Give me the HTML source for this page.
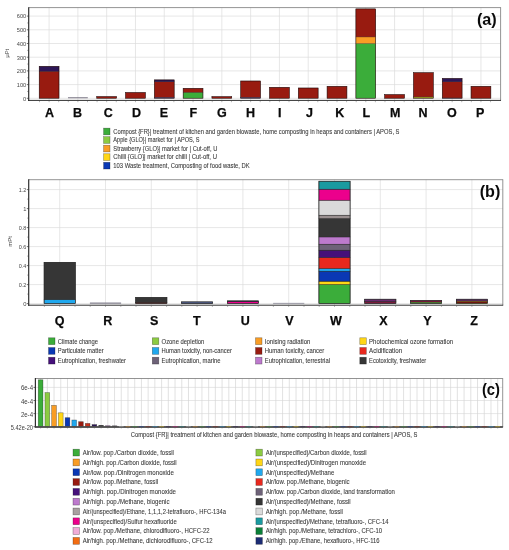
<!DOCTYPE html>
<html lang="en"><head><meta charset="utf-8"><title>Figure</title>
<style>html,body{margin:0;padding:0;background:#fff;}svg{display:block;}text{font-family:'Liberation Sans', sans-serif;} .lt{stroke:#383838;stroke-width:0.08px;}</style>
</head><body>
<svg width="509" height="550" viewBox="0 0 509 550">
<rect x="0" y="0" width="509" height="550" fill="#ffffff"/>
<rect x="28.70" y="7.60" width="471.90" height="92.80" fill="#ffffff"/>
<line x1="28.70" y1="98.30" x2="500.60" y2="98.30" stroke="#dcdcdc" stroke-width="0.7"/>
<line x1="28.70" y1="84.60" x2="500.60" y2="84.60" stroke="#dcdcdc" stroke-width="0.7"/>
<line x1="28.70" y1="70.90" x2="500.60" y2="70.90" stroke="#dcdcdc" stroke-width="0.7"/>
<line x1="28.70" y1="57.20" x2="500.60" y2="57.20" stroke="#dcdcdc" stroke-width="0.7"/>
<line x1="28.70" y1="43.50" x2="500.60" y2="43.50" stroke="#dcdcdc" stroke-width="0.7"/>
<line x1="28.70" y1="29.80" x2="500.60" y2="29.80" stroke="#dcdcdc" stroke-width="0.7"/>
<line x1="28.70" y1="16.10" x2="500.60" y2="16.10" stroke="#dcdcdc" stroke-width="0.7"/>
<line x1="49.10" y1="7.60" x2="49.10" y2="100.40" stroke="#dcdcdc" stroke-width="0.7"/>
<line x1="77.89" y1="7.60" x2="77.89" y2="100.40" stroke="#dcdcdc" stroke-width="0.7"/>
<line x1="106.68" y1="7.60" x2="106.68" y2="100.40" stroke="#dcdcdc" stroke-width="0.7"/>
<line x1="135.47" y1="7.60" x2="135.47" y2="100.40" stroke="#dcdcdc" stroke-width="0.7"/>
<line x1="164.26" y1="7.60" x2="164.26" y2="100.40" stroke="#dcdcdc" stroke-width="0.7"/>
<line x1="193.05" y1="7.60" x2="193.05" y2="100.40" stroke="#dcdcdc" stroke-width="0.7"/>
<line x1="221.84" y1="7.60" x2="221.84" y2="100.40" stroke="#dcdcdc" stroke-width="0.7"/>
<line x1="250.63" y1="7.60" x2="250.63" y2="100.40" stroke="#dcdcdc" stroke-width="0.7"/>
<line x1="279.42" y1="7.60" x2="279.42" y2="100.40" stroke="#dcdcdc" stroke-width="0.7"/>
<line x1="308.21" y1="7.60" x2="308.21" y2="100.40" stroke="#dcdcdc" stroke-width="0.7"/>
<line x1="337.00" y1="7.60" x2="337.00" y2="100.40" stroke="#dcdcdc" stroke-width="0.7"/>
<line x1="365.79" y1="7.60" x2="365.79" y2="100.40" stroke="#dcdcdc" stroke-width="0.7"/>
<line x1="394.58" y1="7.60" x2="394.58" y2="100.40" stroke="#dcdcdc" stroke-width="0.7"/>
<line x1="423.37" y1="7.60" x2="423.37" y2="100.40" stroke="#dcdcdc" stroke-width="0.7"/>
<line x1="452.16" y1="7.60" x2="452.16" y2="100.40" stroke="#dcdcdc" stroke-width="0.7"/>
<line x1="480.95" y1="7.60" x2="480.95" y2="100.40" stroke="#dcdcdc" stroke-width="0.7"/>
<rect x="39.20" y="71.30" width="19.80" height="26.90" fill="#981b10" stroke="rgba(20,10,10,0.6)" stroke-width="0.4"/>
<rect x="39.20" y="66.30" width="19.80" height="5.00" fill="#2d1656" stroke="rgba(20,10,10,0.6)" stroke-width="0.4"/>
<rect x="39.20" y="66.30" width="19.80" height="31.90" fill="none" stroke="rgba(40,12,12,0.85)" stroke-width="0.55"/>
<line x1="39.50" y1="100.90" x2="39.50" y2="102.20" stroke="#8a8a8a" stroke-width="0.6"/>
<line x1="49.10" y1="100.90" x2="49.10" y2="102.20" stroke="#8a8a8a" stroke-width="0.6"/>
<line x1="58.70" y1="100.90" x2="58.70" y2="102.20" stroke="#8a8a8a" stroke-width="0.6"/>
<rect x="67.99" y="97.40" width="19.80" height="0.80" fill="#5e586a"/>
<line x1="68.29" y1="100.90" x2="68.29" y2="102.20" stroke="#8a8a8a" stroke-width="0.6"/>
<line x1="77.89" y1="100.90" x2="77.89" y2="102.20" stroke="#8a8a8a" stroke-width="0.6"/>
<line x1="87.49" y1="100.90" x2="87.49" y2="102.20" stroke="#8a8a8a" stroke-width="0.6"/>
<rect x="96.78" y="96.60" width="19.80" height="1.60" fill="#981b10" stroke="rgba(20,10,10,0.6)" stroke-width="0.4"/>
<rect x="96.78" y="96.60" width="19.80" height="1.60" fill="none" stroke="rgba(40,12,12,0.85)" stroke-width="0.55"/>
<line x1="97.08" y1="100.90" x2="97.08" y2="102.20" stroke="#8a8a8a" stroke-width="0.6"/>
<line x1="106.68" y1="100.90" x2="106.68" y2="102.20" stroke="#8a8a8a" stroke-width="0.6"/>
<line x1="116.28" y1="100.90" x2="116.28" y2="102.20" stroke="#8a8a8a" stroke-width="0.6"/>
<rect x="125.57" y="92.50" width="19.80" height="5.70" fill="#981b10" stroke="rgba(20,10,10,0.6)" stroke-width="0.4"/>
<rect x="125.57" y="92.50" width="19.80" height="5.70" fill="none" stroke="rgba(40,12,12,0.85)" stroke-width="0.55"/>
<line x1="125.87" y1="100.90" x2="125.87" y2="102.20" stroke="#8a8a8a" stroke-width="0.6"/>
<line x1="135.47" y1="100.90" x2="135.47" y2="102.20" stroke="#8a8a8a" stroke-width="0.6"/>
<line x1="145.07" y1="100.90" x2="145.07" y2="102.20" stroke="#8a8a8a" stroke-width="0.6"/>
<rect x="154.36" y="97.40" width="19.80" height="0.80" fill="#0a38b4" stroke="rgba(20,10,10,0.6)" stroke-width="0.4"/>
<rect x="154.36" y="81.80" width="19.80" height="15.60" fill="#981b10" stroke="rgba(20,10,10,0.6)" stroke-width="0.4"/>
<rect x="154.36" y="79.90" width="19.80" height="1.90" fill="#2d1656" stroke="rgba(20,10,10,0.6)" stroke-width="0.4"/>
<rect x="154.36" y="79.90" width="19.80" height="18.30" fill="none" stroke="rgba(40,12,12,0.85)" stroke-width="0.55"/>
<line x1="154.66" y1="100.90" x2="154.66" y2="102.20" stroke="#8a8a8a" stroke-width="0.6"/>
<line x1="164.26" y1="100.90" x2="164.26" y2="102.20" stroke="#8a8a8a" stroke-width="0.6"/>
<line x1="173.86" y1="100.90" x2="173.86" y2="102.20" stroke="#8a8a8a" stroke-width="0.6"/>
<rect x="183.15" y="92.30" width="19.80" height="5.90" fill="#3bad3a" stroke="rgba(20,10,10,0.6)" stroke-width="0.4"/>
<rect x="183.15" y="88.30" width="19.80" height="4.00" fill="#981b10" stroke="rgba(20,10,10,0.6)" stroke-width="0.4"/>
<rect x="183.15" y="88.30" width="19.80" height="9.90" fill="none" stroke="rgba(40,12,12,0.85)" stroke-width="0.55"/>
<line x1="183.45" y1="100.90" x2="183.45" y2="102.20" stroke="#8a8a8a" stroke-width="0.6"/>
<line x1="193.05" y1="100.90" x2="193.05" y2="102.20" stroke="#8a8a8a" stroke-width="0.6"/>
<line x1="202.65" y1="100.90" x2="202.65" y2="102.20" stroke="#8a8a8a" stroke-width="0.6"/>
<rect x="211.94" y="96.70" width="19.80" height="1.50" fill="#981b10" stroke="rgba(20,10,10,0.6)" stroke-width="0.4"/>
<rect x="211.94" y="96.70" width="19.80" height="1.50" fill="none" stroke="rgba(40,12,12,0.85)" stroke-width="0.55"/>
<line x1="212.24" y1="100.90" x2="212.24" y2="102.20" stroke="#8a8a8a" stroke-width="0.6"/>
<line x1="221.84" y1="100.90" x2="221.84" y2="102.20" stroke="#8a8a8a" stroke-width="0.6"/>
<line x1="231.44" y1="100.90" x2="231.44" y2="102.20" stroke="#8a8a8a" stroke-width="0.6"/>
<rect x="240.73" y="97.40" width="19.80" height="0.80" fill="#0a38b4" stroke="rgba(20,10,10,0.6)" stroke-width="0.4"/>
<rect x="240.73" y="81.00" width="19.80" height="16.40" fill="#981b10" stroke="rgba(20,10,10,0.6)" stroke-width="0.4"/>
<rect x="240.73" y="81.00" width="19.80" height="17.20" fill="none" stroke="rgba(40,12,12,0.85)" stroke-width="0.55"/>
<line x1="241.03" y1="100.90" x2="241.03" y2="102.20" stroke="#8a8a8a" stroke-width="0.6"/>
<line x1="250.63" y1="100.90" x2="250.63" y2="102.20" stroke="#8a8a8a" stroke-width="0.6"/>
<line x1="260.23" y1="100.90" x2="260.23" y2="102.20" stroke="#8a8a8a" stroke-width="0.6"/>
<rect x="269.52" y="87.30" width="19.80" height="10.90" fill="#981b10" stroke="rgba(20,10,10,0.6)" stroke-width="0.4"/>
<rect x="269.52" y="87.30" width="19.80" height="10.90" fill="none" stroke="rgba(40,12,12,0.85)" stroke-width="0.55"/>
<line x1="269.82" y1="100.90" x2="269.82" y2="102.20" stroke="#8a8a8a" stroke-width="0.6"/>
<line x1="279.42" y1="100.90" x2="279.42" y2="102.20" stroke="#8a8a8a" stroke-width="0.6"/>
<line x1="289.02" y1="100.90" x2="289.02" y2="102.20" stroke="#8a8a8a" stroke-width="0.6"/>
<rect x="298.31" y="88.00" width="19.80" height="10.20" fill="#981b10" stroke="rgba(20,10,10,0.6)" stroke-width="0.4"/>
<rect x="298.31" y="88.00" width="19.80" height="10.20" fill="none" stroke="rgba(40,12,12,0.85)" stroke-width="0.55"/>
<line x1="298.61" y1="100.90" x2="298.61" y2="102.20" stroke="#8a8a8a" stroke-width="0.6"/>
<line x1="308.21" y1="100.90" x2="308.21" y2="102.20" stroke="#8a8a8a" stroke-width="0.6"/>
<line x1="317.81" y1="100.90" x2="317.81" y2="102.20" stroke="#8a8a8a" stroke-width="0.6"/>
<rect x="327.10" y="86.30" width="19.80" height="11.90" fill="#981b10" stroke="rgba(20,10,10,0.6)" stroke-width="0.4"/>
<rect x="327.10" y="86.30" width="19.80" height="11.90" fill="none" stroke="rgba(40,12,12,0.85)" stroke-width="0.55"/>
<line x1="327.40" y1="100.90" x2="327.40" y2="102.20" stroke="#8a8a8a" stroke-width="0.6"/>
<line x1="337.00" y1="100.90" x2="337.00" y2="102.20" stroke="#8a8a8a" stroke-width="0.6"/>
<line x1="346.60" y1="100.90" x2="346.60" y2="102.20" stroke="#8a8a8a" stroke-width="0.6"/>
<rect x="355.89" y="43.50" width="19.80" height="54.70" fill="#3bad3a" stroke="rgba(20,10,10,0.6)" stroke-width="0.4"/>
<rect x="355.89" y="36.90" width="19.80" height="6.60" fill="#f99d25" stroke="rgba(20,10,10,0.6)" stroke-width="0.4"/>
<rect x="355.89" y="8.90" width="19.80" height="28.00" fill="#981b10" stroke="rgba(20,10,10,0.6)" stroke-width="0.4"/>
<rect x="355.89" y="8.90" width="19.80" height="89.30" fill="none" stroke="rgba(40,12,12,0.85)" stroke-width="0.55"/>
<line x1="356.19" y1="100.90" x2="356.19" y2="102.20" stroke="#8a8a8a" stroke-width="0.6"/>
<line x1="365.79" y1="100.90" x2="365.79" y2="102.20" stroke="#8a8a8a" stroke-width="0.6"/>
<line x1="375.39" y1="100.90" x2="375.39" y2="102.20" stroke="#8a8a8a" stroke-width="0.6"/>
<rect x="384.68" y="94.60" width="19.80" height="3.60" fill="#981b10" stroke="rgba(20,10,10,0.6)" stroke-width="0.4"/>
<rect x="384.68" y="94.60" width="19.80" height="3.60" fill="none" stroke="rgba(40,12,12,0.85)" stroke-width="0.55"/>
<line x1="384.98" y1="100.90" x2="384.98" y2="102.20" stroke="#8a8a8a" stroke-width="0.6"/>
<line x1="394.58" y1="100.90" x2="394.58" y2="102.20" stroke="#8a8a8a" stroke-width="0.6"/>
<line x1="404.18" y1="100.90" x2="404.18" y2="102.20" stroke="#8a8a8a" stroke-width="0.6"/>
<rect x="413.47" y="96.90" width="19.80" height="1.30" fill="#a3a828" stroke="rgba(20,10,10,0.6)" stroke-width="0.4"/>
<rect x="413.47" y="72.70" width="19.80" height="24.20" fill="#981b10" stroke="rgba(20,10,10,0.6)" stroke-width="0.4"/>
<rect x="413.47" y="72.70" width="19.80" height="25.50" fill="none" stroke="rgba(40,12,12,0.85)" stroke-width="0.55"/>
<line x1="413.77" y1="100.90" x2="413.77" y2="102.20" stroke="#8a8a8a" stroke-width="0.6"/>
<line x1="423.37" y1="100.90" x2="423.37" y2="102.20" stroke="#8a8a8a" stroke-width="0.6"/>
<line x1="432.97" y1="100.90" x2="432.97" y2="102.20" stroke="#8a8a8a" stroke-width="0.6"/>
<rect x="442.26" y="97.90" width="19.80" height="0.30" fill="#0a38b4" stroke="rgba(20,10,10,0.6)" stroke-width="0.4"/>
<rect x="442.26" y="81.80" width="19.80" height="16.10" fill="#981b10" stroke="rgba(20,10,10,0.6)" stroke-width="0.4"/>
<rect x="442.26" y="78.40" width="19.80" height="3.40" fill="#2d1656" stroke="rgba(20,10,10,0.6)" stroke-width="0.4"/>
<rect x="442.26" y="78.40" width="19.80" height="19.80" fill="none" stroke="rgba(40,12,12,0.85)" stroke-width="0.55"/>
<line x1="442.56" y1="100.90" x2="442.56" y2="102.20" stroke="#8a8a8a" stroke-width="0.6"/>
<line x1="452.16" y1="100.90" x2="452.16" y2="102.20" stroke="#8a8a8a" stroke-width="0.6"/>
<line x1="461.76" y1="100.90" x2="461.76" y2="102.20" stroke="#8a8a8a" stroke-width="0.6"/>
<rect x="471.05" y="86.30" width="19.80" height="11.90" fill="#981b10" stroke="rgba(20,10,10,0.6)" stroke-width="0.4"/>
<rect x="471.05" y="86.30" width="19.80" height="11.90" fill="none" stroke="rgba(40,12,12,0.85)" stroke-width="0.55"/>
<line x1="471.35" y1="100.90" x2="471.35" y2="102.20" stroke="#8a8a8a" stroke-width="0.6"/>
<line x1="480.95" y1="100.90" x2="480.95" y2="102.20" stroke="#8a8a8a" stroke-width="0.6"/>
<line x1="490.55" y1="100.90" x2="490.55" y2="102.20" stroke="#8a8a8a" stroke-width="0.6"/>
<line x1="26.80" y1="98.30" x2="28.70" y2="98.30" stroke="#333" stroke-width="0.7"/>
<line x1="27.30" y1="91.45" x2="28.70" y2="91.45" stroke="#555" stroke-width="0.6"/>
<line x1="26.80" y1="84.60" x2="28.70" y2="84.60" stroke="#333" stroke-width="0.7"/>
<line x1="27.30" y1="77.75" x2="28.70" y2="77.75" stroke="#555" stroke-width="0.6"/>
<line x1="26.80" y1="70.90" x2="28.70" y2="70.90" stroke="#333" stroke-width="0.7"/>
<line x1="27.30" y1="64.05" x2="28.70" y2="64.05" stroke="#555" stroke-width="0.6"/>
<line x1="26.80" y1="57.20" x2="28.70" y2="57.20" stroke="#333" stroke-width="0.7"/>
<line x1="27.30" y1="50.35" x2="28.70" y2="50.35" stroke="#555" stroke-width="0.6"/>
<line x1="26.80" y1="43.50" x2="28.70" y2="43.50" stroke="#333" stroke-width="0.7"/>
<line x1="27.30" y1="36.65" x2="28.70" y2="36.65" stroke="#555" stroke-width="0.6"/>
<line x1="26.80" y1="29.80" x2="28.70" y2="29.80" stroke="#333" stroke-width="0.7"/>
<line x1="27.30" y1="22.95" x2="28.70" y2="22.95" stroke="#555" stroke-width="0.6"/>
<line x1="26.80" y1="16.10" x2="28.70" y2="16.10" stroke="#333" stroke-width="0.7"/>
<line x1="28.70" y1="7.60" x2="500.60" y2="7.60" stroke="#777" stroke-width="0.8"/>
<line x1="500.60" y1="7.20" x2="500.60" y2="100.40" stroke="#777" stroke-width="0.8"/>
<line x1="28.70" y1="7.20" x2="28.70" y2="100.90" stroke="#303030" stroke-width="1.2"/>
<line x1="28.10" y1="100.40" x2="501.00" y2="100.40" stroke="#262626" stroke-width="0.95"/>
<text x="23.00" y="100.60" font-size="6.1" text-anchor="start" font-weight="normal" fill="#484848" textLength="3.2" lengthAdjust="spacingAndGlyphs">0</text>
<text x="16.80" y="86.90" font-size="6.1" text-anchor="start" font-weight="normal" fill="#484848" textLength="9.4" lengthAdjust="spacingAndGlyphs">100</text>
<text x="16.80" y="73.20" font-size="6.1" text-anchor="start" font-weight="normal" fill="#484848" textLength="9.4" lengthAdjust="spacingAndGlyphs">200</text>
<text x="16.80" y="59.50" font-size="6.1" text-anchor="start" font-weight="normal" fill="#484848" textLength="9.4" lengthAdjust="spacingAndGlyphs">300</text>
<text x="16.80" y="45.80" font-size="6.1" text-anchor="start" font-weight="normal" fill="#484848" textLength="9.4" lengthAdjust="spacingAndGlyphs">400</text>
<text x="16.80" y="32.10" font-size="6.1" text-anchor="start" font-weight="normal" fill="#484848" textLength="9.4" lengthAdjust="spacingAndGlyphs">500</text>
<text x="16.80" y="18.40" font-size="6.1" text-anchor="start" font-weight="normal" fill="#484848" textLength="9.4" lengthAdjust="spacingAndGlyphs">600</text>
<text transform="translate(9.4,53.2) rotate(-90)" font-size="5.6" text-anchor="middle" fill="#484848">µPt</text>
<text x="49.60" y="117.00" font-size="12.5" text-anchor="middle" font-weight="bold" fill="#0a0a0a" stroke="#0a0a0a" stroke-width="0.25">A</text>
<text x="77.50" y="117.00" font-size="12.5" text-anchor="middle" font-weight="bold" fill="#0a0a0a" stroke="#0a0a0a" stroke-width="0.25">B</text>
<text x="108.30" y="117.00" font-size="12.5" text-anchor="middle" font-weight="bold" fill="#0a0a0a" stroke="#0a0a0a" stroke-width="0.25">C</text>
<text x="136.40" y="117.00" font-size="12.5" text-anchor="middle" font-weight="bold" fill="#0a0a0a" stroke="#0a0a0a" stroke-width="0.25">D</text>
<text x="164.00" y="117.00" font-size="12.5" text-anchor="middle" font-weight="bold" fill="#0a0a0a" stroke="#0a0a0a" stroke-width="0.25">E</text>
<text x="193.30" y="117.00" font-size="12.5" text-anchor="middle" font-weight="bold" fill="#0a0a0a" stroke="#0a0a0a" stroke-width="0.25">F</text>
<text x="221.80" y="117.00" font-size="12.5" text-anchor="middle" font-weight="bold" fill="#0a0a0a" stroke="#0a0a0a" stroke-width="0.25">G</text>
<text x="250.60" y="117.00" font-size="12.5" text-anchor="middle" font-weight="bold" fill="#0a0a0a" stroke="#0a0a0a" stroke-width="0.25">H</text>
<text x="279.80" y="117.00" font-size="12.5" text-anchor="middle" font-weight="bold" fill="#0a0a0a" stroke="#0a0a0a" stroke-width="0.25">I</text>
<text x="309.50" y="117.00" font-size="12.5" text-anchor="middle" font-weight="bold" fill="#0a0a0a" stroke="#0a0a0a" stroke-width="0.25">J</text>
<text x="339.80" y="117.00" font-size="12.5" text-anchor="middle" font-weight="bold" fill="#0a0a0a" stroke="#0a0a0a" stroke-width="0.25">K</text>
<text x="366.30" y="117.00" font-size="12.5" text-anchor="middle" font-weight="bold" fill="#0a0a0a" stroke="#0a0a0a" stroke-width="0.25">L</text>
<text x="395.10" y="117.00" font-size="12.5" text-anchor="middle" font-weight="bold" fill="#0a0a0a" stroke="#0a0a0a" stroke-width="0.25">M</text>
<text x="422.90" y="117.00" font-size="12.5" text-anchor="middle" font-weight="bold" fill="#0a0a0a" stroke="#0a0a0a" stroke-width="0.25">N</text>
<text x="451.90" y="117.00" font-size="12.5" text-anchor="middle" font-weight="bold" fill="#0a0a0a" stroke="#0a0a0a" stroke-width="0.25">O</text>
<text x="480.10" y="117.00" font-size="12.5" text-anchor="middle" font-weight="bold" fill="#0a0a0a" stroke="#0a0a0a" stroke-width="0.25">P</text>
<text x="476.90" y="25.10" font-size="16.5" text-anchor="start" font-weight="bold" fill="#0a0a0a" textLength="19.8" lengthAdjust="spacingAndGlyphs">(a)</text>
<rect x="103.60" y="128.15" width="6.40" height="6.70" fill="#3bad3a" stroke="rgba(0,0,0,0.42)" stroke-width="0.6"/>
<text x="113.30" y="133.80" font-size="6.8" text-anchor="start" font-weight="normal" fill="#383838" class="lt" textLength="286.2" lengthAdjust="spacingAndGlyphs">Compost {FR}| treatment of kitchen and garden biowaste, home composting in heaps and containers | APOS, S</text>
<rect x="103.60" y="136.69" width="6.40" height="6.70" fill="#8ccb42" stroke="rgba(0,0,0,0.42)" stroke-width="0.6"/>
<text x="113.30" y="142.34" font-size="6.8" text-anchor="start" font-weight="normal" fill="#383838" class="lt" textLength="86.3" lengthAdjust="spacingAndGlyphs">Apple {GLO}| market for | APOS, S</text>
<rect x="103.60" y="145.23" width="6.40" height="6.70" fill="#f99d25" stroke="rgba(0,0,0,0.42)" stroke-width="0.6"/>
<text x="113.30" y="150.88" font-size="6.8" text-anchor="start" font-weight="normal" fill="#383838" class="lt" textLength="104.0" lengthAdjust="spacingAndGlyphs">Strawberry {GLO}| market for | Cut-off, U</text>
<rect x="103.60" y="153.77" width="6.40" height="6.70" fill="#ffd616" stroke="rgba(0,0,0,0.42)" stroke-width="0.6"/>
<text x="113.30" y="159.42" font-size="6.8" text-anchor="start" font-weight="normal" fill="#383838" class="lt" textLength="103.6" lengthAdjust="spacingAndGlyphs">Chilli {GLO}| market for chilli | Cut-off, U</text>
<rect x="103.60" y="162.31" width="6.40" height="6.70" fill="#0a38b4" stroke="rgba(0,0,0,0.42)" stroke-width="0.6"/>
<text x="113.30" y="167.96" font-size="6.8" text-anchor="start" font-weight="normal" fill="#383838" class="lt" textLength="136.4" lengthAdjust="spacingAndGlyphs">103 Waste treatment, Composting of food waste, DK</text>
<rect x="28.70" y="179.70" width="474.10" height="125.50" fill="#ffffff"/>
<line x1="28.70" y1="303.60" x2="502.80" y2="303.60" stroke="#dcdcdc" stroke-width="0.7"/>
<line x1="28.70" y1="284.60" x2="502.80" y2="284.60" stroke="#dcdcdc" stroke-width="0.7"/>
<line x1="28.70" y1="265.60" x2="502.80" y2="265.60" stroke="#dcdcdc" stroke-width="0.7"/>
<line x1="28.70" y1="246.60" x2="502.80" y2="246.60" stroke="#dcdcdc" stroke-width="0.7"/>
<line x1="28.70" y1="227.60" x2="502.80" y2="227.60" stroke="#dcdcdc" stroke-width="0.7"/>
<line x1="28.70" y1="208.60" x2="502.80" y2="208.60" stroke="#dcdcdc" stroke-width="0.7"/>
<line x1="28.70" y1="189.60" x2="502.80" y2="189.60" stroke="#dcdcdc" stroke-width="0.7"/>
<line x1="59.70" y1="179.70" x2="59.70" y2="305.20" stroke="#dcdcdc" stroke-width="0.7"/>
<line x1="105.50" y1="179.70" x2="105.50" y2="305.20" stroke="#dcdcdc" stroke-width="0.7"/>
<line x1="151.30" y1="179.70" x2="151.30" y2="305.20" stroke="#dcdcdc" stroke-width="0.7"/>
<line x1="197.10" y1="179.70" x2="197.10" y2="305.20" stroke="#dcdcdc" stroke-width="0.7"/>
<line x1="242.90" y1="179.70" x2="242.90" y2="305.20" stroke="#dcdcdc" stroke-width="0.7"/>
<line x1="288.70" y1="179.70" x2="288.70" y2="305.20" stroke="#dcdcdc" stroke-width="0.7"/>
<line x1="334.50" y1="179.70" x2="334.50" y2="305.20" stroke="#dcdcdc" stroke-width="0.7"/>
<line x1="380.30" y1="179.70" x2="380.30" y2="305.20" stroke="#dcdcdc" stroke-width="0.7"/>
<line x1="426.10" y1="179.70" x2="426.10" y2="305.20" stroke="#dcdcdc" stroke-width="0.7"/>
<line x1="471.90" y1="179.70" x2="471.90" y2="305.20" stroke="#dcdcdc" stroke-width="0.7"/>
<rect x="44.10" y="299.50" width="31.20" height="4.10" fill="#20a8ee" stroke="rgba(15,15,15,0.8)" stroke-width="0.5"/>
<rect x="44.10" y="262.30" width="31.20" height="37.20" fill="#363636" stroke="rgba(15,15,15,0.8)" stroke-width="0.5"/>
<rect x="44.10" y="262.30" width="31.20" height="41.30" fill="none" stroke="#2a2a2a" stroke-width="0.6"/>
<line x1="44.40" y1="305.70" x2="44.40" y2="307.00" stroke="#8a8a8a" stroke-width="0.6"/>
<line x1="59.70" y1="305.70" x2="59.70" y2="307.00" stroke="#8a8a8a" stroke-width="0.6"/>
<line x1="75.00" y1="305.70" x2="75.00" y2="307.00" stroke="#8a8a8a" stroke-width="0.6"/>
<rect x="89.90" y="302.60" width="31.20" height="1.00" fill="#6a6878"/>
<line x1="90.20" y1="305.70" x2="90.20" y2="307.00" stroke="#8a8a8a" stroke-width="0.6"/>
<line x1="105.50" y1="305.70" x2="105.50" y2="307.00" stroke="#8a8a8a" stroke-width="0.6"/>
<line x1="120.80" y1="305.70" x2="120.80" y2="307.00" stroke="#8a8a8a" stroke-width="0.6"/>
<rect x="135.70" y="302.40" width="31.20" height="1.20" fill="#981b10" stroke="rgba(15,15,15,0.8)" stroke-width="0.5"/>
<rect x="135.70" y="297.40" width="31.20" height="5.00" fill="#363636" stroke="rgba(15,15,15,0.8)" stroke-width="0.5"/>
<rect x="135.70" y="297.40" width="31.20" height="6.20" fill="none" stroke="#2a2a2a" stroke-width="0.6"/>
<line x1="136.00" y1="305.70" x2="136.00" y2="307.00" stroke="#8a8a8a" stroke-width="0.6"/>
<line x1="151.30" y1="305.70" x2="151.30" y2="307.00" stroke="#8a8a8a" stroke-width="0.6"/>
<line x1="166.60" y1="305.70" x2="166.60" y2="307.00" stroke="#8a8a8a" stroke-width="0.6"/>
<rect x="181.50" y="301.90" width="31.20" height="1.70" fill="#5a6aa0" stroke="rgba(15,15,15,0.8)" stroke-width="0.5"/>
<rect x="181.50" y="301.90" width="31.20" height="1.70" fill="none" stroke="#2a2a2a" stroke-width="0.6"/>
<line x1="181.80" y1="305.70" x2="181.80" y2="307.00" stroke="#8a8a8a" stroke-width="0.6"/>
<line x1="197.10" y1="305.70" x2="197.10" y2="307.00" stroke="#8a8a8a" stroke-width="0.6"/>
<line x1="212.40" y1="305.70" x2="212.40" y2="307.00" stroke="#8a8a8a" stroke-width="0.6"/>
<rect x="227.30" y="301.70" width="31.20" height="1.90" fill="#ec008c" stroke="rgba(15,15,15,0.8)" stroke-width="0.5"/>
<rect x="227.30" y="300.90" width="31.20" height="0.80" fill="#3a1a4a" stroke="rgba(15,15,15,0.8)" stroke-width="0.5"/>
<rect x="227.30" y="300.90" width="31.20" height="2.70" fill="none" stroke="#2a2a2a" stroke-width="0.6"/>
<line x1="227.60" y1="305.70" x2="227.60" y2="307.00" stroke="#8a8a8a" stroke-width="0.6"/>
<line x1="242.90" y1="305.70" x2="242.90" y2="307.00" stroke="#8a8a8a" stroke-width="0.6"/>
<line x1="258.20" y1="305.70" x2="258.20" y2="307.00" stroke="#8a8a8a" stroke-width="0.6"/>
<rect x="273.10" y="302.90" width="31.20" height="0.70" fill="#7a7888"/>
<line x1="273.40" y1="305.70" x2="273.40" y2="307.00" stroke="#8a8a8a" stroke-width="0.6"/>
<line x1="288.70" y1="305.70" x2="288.70" y2="307.00" stroke="#8a8a8a" stroke-width="0.6"/>
<line x1="304.00" y1="305.70" x2="304.00" y2="307.00" stroke="#8a8a8a" stroke-width="0.6"/>
<rect x="318.90" y="284.50" width="31.20" height="19.10" fill="#3bad3a" stroke="rgba(15,15,15,0.8)" stroke-width="0.5"/>
<rect x="318.90" y="281.20" width="31.20" height="3.30" fill="#ffd616" stroke="rgba(15,15,15,0.8)" stroke-width="0.5"/>
<rect x="318.90" y="271.20" width="31.20" height="10.00" fill="#0a38b4" stroke="rgba(15,15,15,0.8)" stroke-width="0.5"/>
<rect x="318.90" y="268.50" width="31.20" height="2.70" fill="#20a8ee" stroke="rgba(15,15,15,0.8)" stroke-width="0.5"/>
<rect x="318.90" y="257.50" width="31.20" height="11.00" fill="#e8281e" stroke="rgba(15,15,15,0.8)" stroke-width="0.5"/>
<rect x="318.90" y="250.20" width="31.20" height="7.30" fill="#45107a" stroke="rgba(15,15,15,0.8)" stroke-width="0.5"/>
<rect x="318.90" y="244.20" width="31.20" height="6.00" fill="#6e6278" stroke="rgba(15,15,15,0.8)" stroke-width="0.5"/>
<rect x="318.90" y="236.90" width="31.20" height="7.30" fill="#bd7acd" stroke="rgba(15,15,15,0.8)" stroke-width="0.5"/>
<rect x="318.90" y="218.50" width="31.20" height="18.40" fill="#363636" stroke="rgba(15,15,15,0.8)" stroke-width="0.5"/>
<rect x="318.90" y="215.20" width="31.20" height="3.30" fill="#9a9090" stroke="rgba(15,15,15,0.8)" stroke-width="0.5"/>
<rect x="318.90" y="200.20" width="31.20" height="15.00" fill="#dadada" stroke="rgba(15,15,15,0.8)" stroke-width="0.5"/>
<rect x="318.90" y="189.20" width="31.20" height="11.00" fill="#ec008c" stroke="rgba(15,15,15,0.8)" stroke-width="0.5"/>
<rect x="318.90" y="181.20" width="31.20" height="8.00" fill="#1a9aa0" stroke="rgba(15,15,15,0.8)" stroke-width="0.5"/>
<rect x="318.90" y="181.20" width="31.20" height="122.40" fill="none" stroke="#2a2a2a" stroke-width="0.6"/>
<line x1="319.20" y1="305.70" x2="319.20" y2="307.00" stroke="#8a8a8a" stroke-width="0.6"/>
<line x1="334.50" y1="305.70" x2="334.50" y2="307.00" stroke="#8a8a8a" stroke-width="0.6"/>
<line x1="349.80" y1="305.70" x2="349.80" y2="307.00" stroke="#8a8a8a" stroke-width="0.6"/>
<rect x="364.70" y="301.40" width="31.20" height="2.20" fill="#7a1a3a" stroke="rgba(15,15,15,0.8)" stroke-width="0.5"/>
<rect x="364.70" y="299.20" width="31.20" height="2.20" fill="#6a2a70" stroke="rgba(15,15,15,0.8)" stroke-width="0.5"/>
<rect x="364.70" y="299.20" width="31.20" height="4.40" fill="none" stroke="#2a2a2a" stroke-width="0.6"/>
<line x1="365.00" y1="305.70" x2="365.00" y2="307.00" stroke="#8a8a8a" stroke-width="0.6"/>
<line x1="380.30" y1="305.70" x2="380.30" y2="307.00" stroke="#8a8a8a" stroke-width="0.6"/>
<line x1="395.60" y1="305.70" x2="395.60" y2="307.00" stroke="#8a8a8a" stroke-width="0.6"/>
<rect x="410.50" y="302.00" width="31.20" height="1.60" fill="#6ab040" stroke="rgba(15,15,15,0.8)" stroke-width="0.5"/>
<rect x="410.50" y="300.40" width="31.20" height="1.60" fill="#8a1a40" stroke="rgba(15,15,15,0.8)" stroke-width="0.5"/>
<rect x="410.50" y="300.40" width="31.20" height="3.20" fill="none" stroke="#2a2a2a" stroke-width="0.6"/>
<line x1="410.80" y1="305.70" x2="410.80" y2="307.00" stroke="#8a8a8a" stroke-width="0.6"/>
<line x1="426.10" y1="305.70" x2="426.10" y2="307.00" stroke="#8a8a8a" stroke-width="0.6"/>
<line x1="441.40" y1="305.70" x2="441.40" y2="307.00" stroke="#8a8a8a" stroke-width="0.6"/>
<rect x="456.30" y="303.00" width="31.20" height="0.60" fill="#ffd616" stroke="rgba(15,15,15,0.8)" stroke-width="0.5"/>
<rect x="456.30" y="301.80" width="31.20" height="1.20" fill="#981b10" stroke="rgba(15,15,15,0.8)" stroke-width="0.5"/>
<rect x="456.30" y="300.90" width="31.20" height="0.90" fill="#f0a020" stroke="rgba(15,15,15,0.8)" stroke-width="0.5"/>
<rect x="456.30" y="299.20" width="31.20" height="1.70" fill="#6a2a70" stroke="rgba(15,15,15,0.8)" stroke-width="0.5"/>
<rect x="456.30" y="299.20" width="31.20" height="4.40" fill="none" stroke="#2a2a2a" stroke-width="0.6"/>
<line x1="456.60" y1="305.70" x2="456.60" y2="307.00" stroke="#8a8a8a" stroke-width="0.6"/>
<line x1="471.90" y1="305.70" x2="471.90" y2="307.00" stroke="#8a8a8a" stroke-width="0.6"/>
<line x1="487.20" y1="305.70" x2="487.20" y2="307.00" stroke="#8a8a8a" stroke-width="0.6"/>
<line x1="26.80" y1="303.60" x2="28.70" y2="303.60" stroke="#333" stroke-width="0.7"/>
<line x1="27.30" y1="294.10" x2="28.70" y2="294.10" stroke="#555" stroke-width="0.6"/>
<line x1="26.80" y1="284.60" x2="28.70" y2="284.60" stroke="#333" stroke-width="0.7"/>
<line x1="27.30" y1="275.10" x2="28.70" y2="275.10" stroke="#555" stroke-width="0.6"/>
<line x1="26.80" y1="265.60" x2="28.70" y2="265.60" stroke="#333" stroke-width="0.7"/>
<line x1="27.30" y1="256.10" x2="28.70" y2="256.10" stroke="#555" stroke-width="0.6"/>
<line x1="26.80" y1="246.60" x2="28.70" y2="246.60" stroke="#333" stroke-width="0.7"/>
<line x1="27.30" y1="237.10" x2="28.70" y2="237.10" stroke="#555" stroke-width="0.6"/>
<line x1="26.80" y1="227.60" x2="28.70" y2="227.60" stroke="#333" stroke-width="0.7"/>
<line x1="27.30" y1="218.10" x2="28.70" y2="218.10" stroke="#555" stroke-width="0.6"/>
<line x1="26.80" y1="208.60" x2="28.70" y2="208.60" stroke="#333" stroke-width="0.7"/>
<line x1="27.30" y1="199.10" x2="28.70" y2="199.10" stroke="#555" stroke-width="0.6"/>
<line x1="26.80" y1="189.60" x2="28.70" y2="189.60" stroke="#333" stroke-width="0.7"/>
<line x1="28.70" y1="179.70" x2="502.80" y2="179.70" stroke="#777" stroke-width="0.8"/>
<line x1="502.80" y1="179.30" x2="502.80" y2="305.20" stroke="#777" stroke-width="0.8"/>
<line x1="28.70" y1="179.30" x2="28.70" y2="305.70" stroke="#303030" stroke-width="1.2"/>
<line x1="28.10" y1="305.20" x2="503.20" y2="305.20" stroke="#262626" stroke-width="0.95"/>
<text x="23.20" y="305.90" font-size="6.1" text-anchor="start" font-weight="normal" fill="#484848" textLength="3.2" lengthAdjust="spacingAndGlyphs">0</text>
<text x="18.80" y="286.90" font-size="6.1" text-anchor="start" font-weight="normal" fill="#484848" textLength="7.6" lengthAdjust="spacingAndGlyphs">0.2</text>
<text x="18.80" y="267.90" font-size="6.1" text-anchor="start" font-weight="normal" fill="#484848" textLength="7.6" lengthAdjust="spacingAndGlyphs">0.4</text>
<text x="18.80" y="248.90" font-size="6.1" text-anchor="start" font-weight="normal" fill="#484848" textLength="7.6" lengthAdjust="spacingAndGlyphs">0.6</text>
<text x="18.80" y="229.90" font-size="6.1" text-anchor="start" font-weight="normal" fill="#484848" textLength="7.6" lengthAdjust="spacingAndGlyphs">0.8</text>
<text x="23.20" y="210.90" font-size="6.1" text-anchor="start" font-weight="normal" fill="#484848" textLength="3.2" lengthAdjust="spacingAndGlyphs">1</text>
<text x="18.80" y="191.90" font-size="6.1" text-anchor="start" font-weight="normal" fill="#484848" textLength="7.6" lengthAdjust="spacingAndGlyphs">1.2</text>
<text transform="translate(12.0,241.5) rotate(-90)" font-size="6.0" text-anchor="middle" fill="#484848">mPt</text>
<text x="59.70" y="325.00" font-size="12.5" text-anchor="middle" font-weight="bold" fill="#0a0a0a" stroke="#0a0a0a" stroke-width="0.25">Q</text>
<text x="107.80" y="325.00" font-size="12.5" text-anchor="middle" font-weight="bold" fill="#0a0a0a" stroke="#0a0a0a" stroke-width="0.25">R</text>
<text x="154.20" y="325.00" font-size="12.5" text-anchor="middle" font-weight="bold" fill="#0a0a0a" stroke="#0a0a0a" stroke-width="0.25">S</text>
<text x="196.80" y="325.00" font-size="12.5" text-anchor="middle" font-weight="bold" fill="#0a0a0a" stroke="#0a0a0a" stroke-width="0.25">T</text>
<text x="245.20" y="325.00" font-size="12.5" text-anchor="middle" font-weight="bold" fill="#0a0a0a" stroke="#0a0a0a" stroke-width="0.25">U</text>
<text x="289.30" y="325.00" font-size="12.5" text-anchor="middle" font-weight="bold" fill="#0a0a0a" stroke="#0a0a0a" stroke-width="0.25">V</text>
<text x="335.80" y="325.00" font-size="12.5" text-anchor="middle" font-weight="bold" fill="#0a0a0a" stroke="#0a0a0a" stroke-width="0.25">W</text>
<text x="383.30" y="325.00" font-size="12.5" text-anchor="middle" font-weight="bold" fill="#0a0a0a" stroke="#0a0a0a" stroke-width="0.25">X</text>
<text x="427.30" y="325.00" font-size="12.5" text-anchor="middle" font-weight="bold" fill="#0a0a0a" stroke="#0a0a0a" stroke-width="0.25">Y</text>
<text x="474.00" y="325.00" font-size="12.5" text-anchor="middle" font-weight="bold" fill="#0a0a0a" stroke="#0a0a0a" stroke-width="0.25">Z</text>
<text x="479.70" y="196.90" font-size="16.5" text-anchor="start" font-weight="bold" fill="#0a0a0a" textLength="20.6" lengthAdjust="spacingAndGlyphs">(b)</text>
<rect x="48.50" y="337.80" width="6.50" height="6.80" fill="#3bad3a" stroke="rgba(0,0,0,0.42)" stroke-width="0.6"/>
<text x="57.80" y="343.50" font-size="6.8" text-anchor="start" font-weight="normal" fill="#383838" class="lt" textLength="40.2" lengthAdjust="spacingAndGlyphs">Climate change</text>
<rect x="152.30" y="337.80" width="6.50" height="6.80" fill="#8ccb42" stroke="rgba(0,0,0,0.42)" stroke-width="0.6"/>
<text x="161.60" y="343.50" font-size="6.8" text-anchor="start" font-weight="normal" fill="#383838" class="lt" textLength="42.8" lengthAdjust="spacingAndGlyphs">Ozone depletion</text>
<rect x="255.50" y="337.80" width="6.50" height="6.80" fill="#f99d25" stroke="rgba(0,0,0,0.42)" stroke-width="0.6"/>
<text x="264.80" y="343.50" font-size="6.8" text-anchor="start" font-weight="normal" fill="#383838" class="lt" textLength="45.6" lengthAdjust="spacingAndGlyphs">Ionising radiation</text>
<rect x="359.80" y="337.80" width="6.50" height="6.80" fill="#ffd616" stroke="rgba(0,0,0,0.42)" stroke-width="0.6"/>
<text x="369.10" y="343.50" font-size="6.8" text-anchor="start" font-weight="normal" fill="#383838" class="lt" textLength="84.0" lengthAdjust="spacingAndGlyphs">Photochemical ozone formation</text>
<rect x="48.50" y="347.52" width="6.50" height="6.80" fill="#0a38b4" stroke="rgba(0,0,0,0.42)" stroke-width="0.6"/>
<text x="57.80" y="353.22" font-size="6.8" text-anchor="start" font-weight="normal" fill="#383838" class="lt" textLength="45.8" lengthAdjust="spacingAndGlyphs">Particulate matter</text>
<rect x="152.30" y="347.52" width="6.50" height="6.80" fill="#20a8ee" stroke="rgba(0,0,0,0.42)" stroke-width="0.6"/>
<text x="161.60" y="353.22" font-size="6.8" text-anchor="start" font-weight="normal" fill="#383838" class="lt" textLength="70.3" lengthAdjust="spacingAndGlyphs">Human toxicity, non-cancer</text>
<rect x="255.50" y="347.52" width="6.50" height="6.80" fill="#981b10" stroke="rgba(0,0,0,0.42)" stroke-width="0.6"/>
<text x="264.80" y="353.22" font-size="6.8" text-anchor="start" font-weight="normal" fill="#383838" class="lt" textLength="59.4" lengthAdjust="spacingAndGlyphs">Human toxicity, cancer</text>
<rect x="359.80" y="347.52" width="6.50" height="6.80" fill="#e8281e" stroke="rgba(0,0,0,0.42)" stroke-width="0.6"/>
<text x="369.10" y="353.22" font-size="6.8" text-anchor="start" font-weight="normal" fill="#383838" class="lt" textLength="33.0" lengthAdjust="spacingAndGlyphs">Acidification</text>
<rect x="48.50" y="357.24" width="6.50" height="6.80" fill="#45107a" stroke="rgba(0,0,0,0.42)" stroke-width="0.6"/>
<text x="57.80" y="362.94" font-size="6.8" text-anchor="start" font-weight="normal" fill="#383838" class="lt" textLength="68.2" lengthAdjust="spacingAndGlyphs">Eutrophication, freshwater</text>
<rect x="152.30" y="357.24" width="6.50" height="6.80" fill="#6e6278" stroke="rgba(0,0,0,0.42)" stroke-width="0.6"/>
<text x="161.60" y="362.94" font-size="6.8" text-anchor="start" font-weight="normal" fill="#383838" class="lt" textLength="58.9" lengthAdjust="spacingAndGlyphs">Eutrophication, marine</text>
<rect x="255.50" y="357.24" width="6.50" height="6.80" fill="#bd7acd" stroke="rgba(0,0,0,0.42)" stroke-width="0.6"/>
<text x="264.80" y="362.94" font-size="6.8" text-anchor="start" font-weight="normal" fill="#383838" class="lt" textLength="65.2" lengthAdjust="spacingAndGlyphs">Eutrophication, terrestrial</text>
<rect x="359.80" y="357.24" width="6.50" height="6.80" fill="#363636" stroke="rgba(0,0,0,0.42)" stroke-width="0.6"/>
<text x="369.10" y="362.94" font-size="6.8" text-anchor="start" font-weight="normal" fill="#383838" class="lt" textLength="57.2" lengthAdjust="spacingAndGlyphs">Ecotoxicity, freshwater</text>
<rect x="35.40" y="378.50" width="467.30" height="48.50" fill="#ffffff"/>
<line x1="35.40" y1="426.70" x2="502.70" y2="426.70" stroke="#dcdcdc" stroke-width="0.7"/>
<line x1="35.40" y1="413.60" x2="502.70" y2="413.60" stroke="#dcdcdc" stroke-width="0.7"/>
<line x1="35.40" y1="400.50" x2="502.70" y2="400.50" stroke="#dcdcdc" stroke-width="0.7"/>
<line x1="35.40" y1="387.40" x2="502.70" y2="387.40" stroke="#dcdcdc" stroke-width="0.7"/>
<line x1="40.60" y1="378.50" x2="40.60" y2="427.00" stroke="#d6d6d6" stroke-width="0.7"/>
<line x1="40.60" y1="427.50" x2="40.60" y2="428.70" stroke="#8a8a8a" stroke-width="0.5"/>
<line x1="47.32" y1="378.50" x2="47.32" y2="427.00" stroke="#d6d6d6" stroke-width="0.7"/>
<line x1="47.32" y1="427.50" x2="47.32" y2="428.70" stroke="#8a8a8a" stroke-width="0.5"/>
<line x1="54.04" y1="378.50" x2="54.04" y2="427.00" stroke="#d6d6d6" stroke-width="0.7"/>
<line x1="54.04" y1="427.50" x2="54.04" y2="428.70" stroke="#8a8a8a" stroke-width="0.5"/>
<line x1="60.77" y1="378.50" x2="60.77" y2="427.00" stroke="#d6d6d6" stroke-width="0.7"/>
<line x1="60.77" y1="427.50" x2="60.77" y2="428.70" stroke="#8a8a8a" stroke-width="0.5"/>
<line x1="67.49" y1="378.50" x2="67.49" y2="427.00" stroke="#d6d6d6" stroke-width="0.7"/>
<line x1="67.49" y1="427.50" x2="67.49" y2="428.70" stroke="#8a8a8a" stroke-width="0.5"/>
<line x1="74.21" y1="378.50" x2="74.21" y2="427.00" stroke="#d6d6d6" stroke-width="0.7"/>
<line x1="74.21" y1="427.50" x2="74.21" y2="428.70" stroke="#8a8a8a" stroke-width="0.5"/>
<line x1="80.93" y1="378.50" x2="80.93" y2="427.00" stroke="#d6d6d6" stroke-width="0.7"/>
<line x1="80.93" y1="427.50" x2="80.93" y2="428.70" stroke="#8a8a8a" stroke-width="0.5"/>
<line x1="87.65" y1="378.50" x2="87.65" y2="427.00" stroke="#d6d6d6" stroke-width="0.7"/>
<line x1="87.65" y1="427.50" x2="87.65" y2="428.70" stroke="#8a8a8a" stroke-width="0.5"/>
<line x1="94.38" y1="378.50" x2="94.38" y2="427.00" stroke="#d6d6d6" stroke-width="0.7"/>
<line x1="94.38" y1="427.50" x2="94.38" y2="428.70" stroke="#8a8a8a" stroke-width="0.5"/>
<line x1="101.10" y1="378.50" x2="101.10" y2="427.00" stroke="#d6d6d6" stroke-width="0.7"/>
<line x1="101.10" y1="427.50" x2="101.10" y2="428.70" stroke="#8a8a8a" stroke-width="0.5"/>
<line x1="107.82" y1="378.50" x2="107.82" y2="427.00" stroke="#d6d6d6" stroke-width="0.7"/>
<line x1="107.82" y1="427.50" x2="107.82" y2="428.70" stroke="#8a8a8a" stroke-width="0.5"/>
<line x1="114.54" y1="378.50" x2="114.54" y2="427.00" stroke="#d6d6d6" stroke-width="0.7"/>
<line x1="114.54" y1="427.50" x2="114.54" y2="428.70" stroke="#8a8a8a" stroke-width="0.5"/>
<line x1="121.26" y1="378.50" x2="121.26" y2="427.00" stroke="#d6d6d6" stroke-width="0.7"/>
<line x1="121.26" y1="427.50" x2="121.26" y2="428.70" stroke="#8a8a8a" stroke-width="0.5"/>
<line x1="127.99" y1="378.50" x2="127.99" y2="427.00" stroke="#d6d6d6" stroke-width="0.7"/>
<line x1="127.99" y1="427.50" x2="127.99" y2="428.70" stroke="#8a8a8a" stroke-width="0.5"/>
<line x1="134.71" y1="378.50" x2="134.71" y2="427.00" stroke="#d6d6d6" stroke-width="0.7"/>
<line x1="134.71" y1="427.50" x2="134.71" y2="428.70" stroke="#8a8a8a" stroke-width="0.5"/>
<line x1="141.43" y1="378.50" x2="141.43" y2="427.00" stroke="#d6d6d6" stroke-width="0.7"/>
<line x1="141.43" y1="427.50" x2="141.43" y2="428.70" stroke="#8a8a8a" stroke-width="0.5"/>
<line x1="148.15" y1="378.50" x2="148.15" y2="427.00" stroke="#d6d6d6" stroke-width="0.7"/>
<line x1="148.15" y1="427.50" x2="148.15" y2="428.70" stroke="#8a8a8a" stroke-width="0.5"/>
<line x1="154.87" y1="378.50" x2="154.87" y2="427.00" stroke="#d6d6d6" stroke-width="0.7"/>
<line x1="154.87" y1="427.50" x2="154.87" y2="428.70" stroke="#8a8a8a" stroke-width="0.5"/>
<line x1="161.60" y1="378.50" x2="161.60" y2="427.00" stroke="#d6d6d6" stroke-width="0.7"/>
<line x1="161.60" y1="427.50" x2="161.60" y2="428.70" stroke="#8a8a8a" stroke-width="0.5"/>
<line x1="168.32" y1="378.50" x2="168.32" y2="427.00" stroke="#d6d6d6" stroke-width="0.7"/>
<line x1="168.32" y1="427.50" x2="168.32" y2="428.70" stroke="#8a8a8a" stroke-width="0.5"/>
<line x1="175.04" y1="378.50" x2="175.04" y2="427.00" stroke="#d6d6d6" stroke-width="0.7"/>
<line x1="175.04" y1="427.50" x2="175.04" y2="428.70" stroke="#8a8a8a" stroke-width="0.5"/>
<line x1="181.76" y1="378.50" x2="181.76" y2="427.00" stroke="#d6d6d6" stroke-width="0.7"/>
<line x1="181.76" y1="427.50" x2="181.76" y2="428.70" stroke="#8a8a8a" stroke-width="0.5"/>
<line x1="188.48" y1="378.50" x2="188.48" y2="427.00" stroke="#d6d6d6" stroke-width="0.7"/>
<line x1="188.48" y1="427.50" x2="188.48" y2="428.70" stroke="#8a8a8a" stroke-width="0.5"/>
<line x1="195.21" y1="378.50" x2="195.21" y2="427.00" stroke="#d6d6d6" stroke-width="0.7"/>
<line x1="195.21" y1="427.50" x2="195.21" y2="428.70" stroke="#8a8a8a" stroke-width="0.5"/>
<line x1="201.93" y1="378.50" x2="201.93" y2="427.00" stroke="#d6d6d6" stroke-width="0.7"/>
<line x1="201.93" y1="427.50" x2="201.93" y2="428.70" stroke="#8a8a8a" stroke-width="0.5"/>
<line x1="208.65" y1="378.50" x2="208.65" y2="427.00" stroke="#d6d6d6" stroke-width="0.7"/>
<line x1="208.65" y1="427.50" x2="208.65" y2="428.70" stroke="#8a8a8a" stroke-width="0.5"/>
<line x1="215.37" y1="378.50" x2="215.37" y2="427.00" stroke="#d6d6d6" stroke-width="0.7"/>
<line x1="215.37" y1="427.50" x2="215.37" y2="428.70" stroke="#8a8a8a" stroke-width="0.5"/>
<line x1="222.09" y1="378.50" x2="222.09" y2="427.00" stroke="#d6d6d6" stroke-width="0.7"/>
<line x1="222.09" y1="427.50" x2="222.09" y2="428.70" stroke="#8a8a8a" stroke-width="0.5"/>
<line x1="228.82" y1="378.50" x2="228.82" y2="427.00" stroke="#d6d6d6" stroke-width="0.7"/>
<line x1="228.82" y1="427.50" x2="228.82" y2="428.70" stroke="#8a8a8a" stroke-width="0.5"/>
<line x1="235.54" y1="378.50" x2="235.54" y2="427.00" stroke="#d6d6d6" stroke-width="0.7"/>
<line x1="235.54" y1="427.50" x2="235.54" y2="428.70" stroke="#8a8a8a" stroke-width="0.5"/>
<line x1="242.26" y1="378.50" x2="242.26" y2="427.00" stroke="#d6d6d6" stroke-width="0.7"/>
<line x1="242.26" y1="427.50" x2="242.26" y2="428.70" stroke="#8a8a8a" stroke-width="0.5"/>
<line x1="248.98" y1="378.50" x2="248.98" y2="427.00" stroke="#d6d6d6" stroke-width="0.7"/>
<line x1="248.98" y1="427.50" x2="248.98" y2="428.70" stroke="#8a8a8a" stroke-width="0.5"/>
<line x1="255.70" y1="378.50" x2="255.70" y2="427.00" stroke="#d6d6d6" stroke-width="0.7"/>
<line x1="255.70" y1="427.50" x2="255.70" y2="428.70" stroke="#8a8a8a" stroke-width="0.5"/>
<line x1="262.43" y1="378.50" x2="262.43" y2="427.00" stroke="#d6d6d6" stroke-width="0.7"/>
<line x1="262.43" y1="427.50" x2="262.43" y2="428.70" stroke="#8a8a8a" stroke-width="0.5"/>
<line x1="269.15" y1="378.50" x2="269.15" y2="427.00" stroke="#d6d6d6" stroke-width="0.7"/>
<line x1="269.15" y1="427.50" x2="269.15" y2="428.70" stroke="#8a8a8a" stroke-width="0.5"/>
<line x1="275.87" y1="378.50" x2="275.87" y2="427.00" stroke="#d6d6d6" stroke-width="0.7"/>
<line x1="275.87" y1="427.50" x2="275.87" y2="428.70" stroke="#8a8a8a" stroke-width="0.5"/>
<line x1="282.59" y1="378.50" x2="282.59" y2="427.00" stroke="#d6d6d6" stroke-width="0.7"/>
<line x1="282.59" y1="427.50" x2="282.59" y2="428.70" stroke="#8a8a8a" stroke-width="0.5"/>
<line x1="289.31" y1="378.50" x2="289.31" y2="427.00" stroke="#d6d6d6" stroke-width="0.7"/>
<line x1="289.31" y1="427.50" x2="289.31" y2="428.70" stroke="#8a8a8a" stroke-width="0.5"/>
<line x1="296.04" y1="378.50" x2="296.04" y2="427.00" stroke="#d6d6d6" stroke-width="0.7"/>
<line x1="296.04" y1="427.50" x2="296.04" y2="428.70" stroke="#8a8a8a" stroke-width="0.5"/>
<line x1="302.76" y1="378.50" x2="302.76" y2="427.00" stroke="#d6d6d6" stroke-width="0.7"/>
<line x1="302.76" y1="427.50" x2="302.76" y2="428.70" stroke="#8a8a8a" stroke-width="0.5"/>
<line x1="309.48" y1="378.50" x2="309.48" y2="427.00" stroke="#d6d6d6" stroke-width="0.7"/>
<line x1="309.48" y1="427.50" x2="309.48" y2="428.70" stroke="#8a8a8a" stroke-width="0.5"/>
<line x1="316.20" y1="378.50" x2="316.20" y2="427.00" stroke="#d6d6d6" stroke-width="0.7"/>
<line x1="316.20" y1="427.50" x2="316.20" y2="428.70" stroke="#8a8a8a" stroke-width="0.5"/>
<line x1="322.92" y1="378.50" x2="322.92" y2="427.00" stroke="#d6d6d6" stroke-width="0.7"/>
<line x1="322.92" y1="427.50" x2="322.92" y2="428.70" stroke="#8a8a8a" stroke-width="0.5"/>
<line x1="329.65" y1="378.50" x2="329.65" y2="427.00" stroke="#d6d6d6" stroke-width="0.7"/>
<line x1="329.65" y1="427.50" x2="329.65" y2="428.70" stroke="#8a8a8a" stroke-width="0.5"/>
<line x1="336.37" y1="378.50" x2="336.37" y2="427.00" stroke="#d6d6d6" stroke-width="0.7"/>
<line x1="336.37" y1="427.50" x2="336.37" y2="428.70" stroke="#8a8a8a" stroke-width="0.5"/>
<line x1="343.09" y1="378.50" x2="343.09" y2="427.00" stroke="#d6d6d6" stroke-width="0.7"/>
<line x1="343.09" y1="427.50" x2="343.09" y2="428.70" stroke="#8a8a8a" stroke-width="0.5"/>
<line x1="349.81" y1="378.50" x2="349.81" y2="427.00" stroke="#d6d6d6" stroke-width="0.7"/>
<line x1="349.81" y1="427.50" x2="349.81" y2="428.70" stroke="#8a8a8a" stroke-width="0.5"/>
<line x1="356.53" y1="378.50" x2="356.53" y2="427.00" stroke="#d6d6d6" stroke-width="0.7"/>
<line x1="356.53" y1="427.50" x2="356.53" y2="428.70" stroke="#8a8a8a" stroke-width="0.5"/>
<line x1="363.26" y1="378.50" x2="363.26" y2="427.00" stroke="#d6d6d6" stroke-width="0.7"/>
<line x1="363.26" y1="427.50" x2="363.26" y2="428.70" stroke="#8a8a8a" stroke-width="0.5"/>
<line x1="369.98" y1="378.50" x2="369.98" y2="427.00" stroke="#d6d6d6" stroke-width="0.7"/>
<line x1="369.98" y1="427.50" x2="369.98" y2="428.70" stroke="#8a8a8a" stroke-width="0.5"/>
<line x1="376.70" y1="378.50" x2="376.70" y2="427.00" stroke="#d6d6d6" stroke-width="0.7"/>
<line x1="376.70" y1="427.50" x2="376.70" y2="428.70" stroke="#8a8a8a" stroke-width="0.5"/>
<line x1="383.42" y1="378.50" x2="383.42" y2="427.00" stroke="#d6d6d6" stroke-width="0.7"/>
<line x1="383.42" y1="427.50" x2="383.42" y2="428.70" stroke="#8a8a8a" stroke-width="0.5"/>
<line x1="390.14" y1="378.50" x2="390.14" y2="427.00" stroke="#d6d6d6" stroke-width="0.7"/>
<line x1="390.14" y1="427.50" x2="390.14" y2="428.70" stroke="#8a8a8a" stroke-width="0.5"/>
<line x1="396.87" y1="378.50" x2="396.87" y2="427.00" stroke="#d6d6d6" stroke-width="0.7"/>
<line x1="396.87" y1="427.50" x2="396.87" y2="428.70" stroke="#8a8a8a" stroke-width="0.5"/>
<line x1="403.59" y1="378.50" x2="403.59" y2="427.00" stroke="#d6d6d6" stroke-width="0.7"/>
<line x1="403.59" y1="427.50" x2="403.59" y2="428.70" stroke="#8a8a8a" stroke-width="0.5"/>
<line x1="410.31" y1="378.50" x2="410.31" y2="427.00" stroke="#d6d6d6" stroke-width="0.7"/>
<line x1="410.31" y1="427.50" x2="410.31" y2="428.70" stroke="#8a8a8a" stroke-width="0.5"/>
<line x1="417.03" y1="378.50" x2="417.03" y2="427.00" stroke="#d6d6d6" stroke-width="0.7"/>
<line x1="417.03" y1="427.50" x2="417.03" y2="428.70" stroke="#8a8a8a" stroke-width="0.5"/>
<line x1="423.75" y1="378.50" x2="423.75" y2="427.00" stroke="#d6d6d6" stroke-width="0.7"/>
<line x1="423.75" y1="427.50" x2="423.75" y2="428.70" stroke="#8a8a8a" stroke-width="0.5"/>
<line x1="430.48" y1="378.50" x2="430.48" y2="427.00" stroke="#d6d6d6" stroke-width="0.7"/>
<line x1="430.48" y1="427.50" x2="430.48" y2="428.70" stroke="#8a8a8a" stroke-width="0.5"/>
<line x1="437.20" y1="378.50" x2="437.20" y2="427.00" stroke="#d6d6d6" stroke-width="0.7"/>
<line x1="437.20" y1="427.50" x2="437.20" y2="428.70" stroke="#8a8a8a" stroke-width="0.5"/>
<line x1="443.92" y1="378.50" x2="443.92" y2="427.00" stroke="#d6d6d6" stroke-width="0.7"/>
<line x1="443.92" y1="427.50" x2="443.92" y2="428.70" stroke="#8a8a8a" stroke-width="0.5"/>
<line x1="450.64" y1="378.50" x2="450.64" y2="427.00" stroke="#d6d6d6" stroke-width="0.7"/>
<line x1="450.64" y1="427.50" x2="450.64" y2="428.70" stroke="#8a8a8a" stroke-width="0.5"/>
<line x1="457.36" y1="378.50" x2="457.36" y2="427.00" stroke="#d6d6d6" stroke-width="0.7"/>
<line x1="457.36" y1="427.50" x2="457.36" y2="428.70" stroke="#8a8a8a" stroke-width="0.5"/>
<line x1="464.09" y1="378.50" x2="464.09" y2="427.00" stroke="#d6d6d6" stroke-width="0.7"/>
<line x1="464.09" y1="427.50" x2="464.09" y2="428.70" stroke="#8a8a8a" stroke-width="0.5"/>
<line x1="470.81" y1="378.50" x2="470.81" y2="427.00" stroke="#d6d6d6" stroke-width="0.7"/>
<line x1="470.81" y1="427.50" x2="470.81" y2="428.70" stroke="#8a8a8a" stroke-width="0.5"/>
<line x1="477.53" y1="378.50" x2="477.53" y2="427.00" stroke="#d6d6d6" stroke-width="0.7"/>
<line x1="477.53" y1="427.50" x2="477.53" y2="428.70" stroke="#8a8a8a" stroke-width="0.5"/>
<line x1="484.25" y1="378.50" x2="484.25" y2="427.00" stroke="#d6d6d6" stroke-width="0.7"/>
<line x1="484.25" y1="427.50" x2="484.25" y2="428.70" stroke="#8a8a8a" stroke-width="0.5"/>
<line x1="490.97" y1="378.50" x2="490.97" y2="427.00" stroke="#d6d6d6" stroke-width="0.7"/>
<line x1="490.97" y1="427.50" x2="490.97" y2="428.70" stroke="#8a8a8a" stroke-width="0.5"/>
<line x1="497.70" y1="378.50" x2="497.70" y2="427.00" stroke="#d6d6d6" stroke-width="0.7"/>
<line x1="497.70" y1="427.50" x2="497.70" y2="428.70" stroke="#8a8a8a" stroke-width="0.5"/>
<rect x="38.25" y="379.80" width="4.70" height="46.60" fill="#3bad3a" stroke="rgba(0,0,0,0.45)" stroke-width="0.6"/>
<rect x="44.97" y="392.60" width="4.70" height="33.80" fill="#8ccb42" stroke="rgba(0,0,0,0.45)" stroke-width="0.6"/>
<rect x="51.69" y="405.40" width="4.70" height="21.00" fill="#f99d25" stroke="rgba(0,0,0,0.45)" stroke-width="0.6"/>
<rect x="58.42" y="412.80" width="4.70" height="13.60" fill="#ffd616" stroke="rgba(0,0,0,0.45)" stroke-width="0.6"/>
<rect x="65.14" y="417.70" width="4.70" height="8.70" fill="#0a38b4" stroke="rgba(0,0,0,0.45)" stroke-width="0.6"/>
<rect x="71.86" y="420.00" width="4.70" height="6.40" fill="#20a8ee" stroke="rgba(0,0,0,0.45)" stroke-width="0.6"/>
<rect x="78.58" y="421.70" width="4.70" height="4.70" fill="#981b10" stroke="rgba(0,0,0,0.45)" stroke-width="0.6"/>
<rect x="85.30" y="423.40" width="4.70" height="3.00" fill="#c8321e" stroke="rgba(0,0,0,0.45)" stroke-width="0.6"/>
<rect x="92.03" y="424.60" width="4.70" height="1.80" fill="#2d1656" stroke="rgba(0,0,0,0.45)" stroke-width="0.6"/>
<rect x="98.75" y="425.30" width="4.70" height="1.10" fill="#222" stroke="rgba(0,0,0,0.45)" stroke-width="0.6"/>
<rect x="105.47" y="425.70" width="4.70" height="0.70" fill="#bd7acd" stroke="rgba(0,0,0,0.45)" stroke-width="0.6"/>
<rect x="112.19" y="425.80" width="4.70" height="0.60" fill="#6e6278" stroke="rgba(0,0,0,0.45)" stroke-width="0.6"/>
<line x1="33.50" y1="426.70" x2="35.40" y2="426.70" stroke="#333" stroke-width="0.7"/>
<line x1="33.50" y1="413.60" x2="35.40" y2="413.60" stroke="#333" stroke-width="0.7"/>
<line x1="33.50" y1="400.50" x2="35.40" y2="400.50" stroke="#333" stroke-width="0.7"/>
<line x1="33.50" y1="387.40" x2="35.40" y2="387.40" stroke="#333" stroke-width="0.7"/>
<line x1="35.40" y1="378.50" x2="502.70" y2="378.50" stroke="#777" stroke-width="0.8"/>
<line x1="502.70" y1="378.10" x2="502.70" y2="427.00" stroke="#777" stroke-width="0.8"/>
<line x1="35.40" y1="378.10" x2="35.40" y2="427.50" stroke="#303030" stroke-width="1.2"/>
<line x1="34.80" y1="427.00" x2="503.10" y2="427.00" stroke="#262626" stroke-width="0.95"/>
<line x1="35.40" y1="426.90" x2="502.70" y2="426.90" stroke="#4a4a4a" stroke-width="1.5"/>
<rect x="118.91" y="426.00" width="4.70" height="1.20" fill="#dadada" opacity="0.32"/>
<rect x="125.64" y="426.00" width="4.70" height="1.20" fill="#f99d25" opacity="0.32"/>
<rect x="132.36" y="426.00" width="4.70" height="1.20" fill="#3bad3a" opacity="0.32"/>
<rect x="139.08" y="426.00" width="4.70" height="1.20" fill="#0a38b4" opacity="0.32"/>
<rect x="145.80" y="426.00" width="4.70" height="1.20" fill="#981b10" opacity="0.32"/>
<rect x="152.52" y="426.00" width="4.70" height="1.20" fill="#20a8ee" opacity="0.32"/>
<rect x="159.25" y="426.00" width="4.70" height="1.20" fill="#ffd616" opacity="0.32"/>
<rect x="165.97" y="426.00" width="4.70" height="1.20" fill="#2d1656" opacity="0.32"/>
<rect x="172.69" y="426.00" width="4.70" height="1.20" fill="#ec008c" opacity="0.32"/>
<rect x="179.41" y="426.00" width="4.70" height="1.20" fill="#1a9aa0" opacity="0.32"/>
<rect x="186.13" y="426.00" width="4.70" height="1.20" fill="#dadada" opacity="0.32"/>
<rect x="192.86" y="426.00" width="4.70" height="1.20" fill="#f99d25" opacity="0.32"/>
<rect x="199.58" y="426.00" width="4.70" height="1.20" fill="#3bad3a" opacity="0.32"/>
<rect x="206.30" y="426.00" width="4.70" height="1.20" fill="#0a38b4" opacity="0.32"/>
<rect x="213.02" y="426.00" width="4.70" height="1.20" fill="#981b10" opacity="0.32"/>
<rect x="219.74" y="426.00" width="4.70" height="1.20" fill="#20a8ee" opacity="0.32"/>
<rect x="226.47" y="426.00" width="4.70" height="1.20" fill="#ffd616" opacity="0.32"/>
<rect x="233.19" y="426.00" width="4.70" height="1.20" fill="#2d1656" opacity="0.32"/>
<rect x="239.91" y="426.00" width="4.70" height="1.20" fill="#ec008c" opacity="0.32"/>
<rect x="246.63" y="426.00" width="4.70" height="1.20" fill="#1a9aa0" opacity="0.32"/>
<rect x="253.35" y="426.00" width="4.70" height="1.20" fill="#dadada" opacity="0.32"/>
<rect x="260.08" y="426.00" width="4.70" height="1.20" fill="#f99d25" opacity="0.32"/>
<rect x="266.80" y="426.00" width="4.70" height="1.20" fill="#3bad3a" opacity="0.32"/>
<rect x="273.52" y="426.00" width="4.70" height="1.20" fill="#0a38b4" opacity="0.32"/>
<rect x="280.24" y="426.00" width="4.70" height="1.20" fill="#981b10" opacity="0.32"/>
<rect x="286.96" y="426.00" width="4.70" height="1.20" fill="#20a8ee" opacity="0.32"/>
<rect x="293.69" y="426.00" width="4.70" height="1.20" fill="#ffd616" opacity="0.32"/>
<rect x="300.41" y="426.00" width="4.70" height="1.20" fill="#2d1656" opacity="0.32"/>
<rect x="307.13" y="426.00" width="4.70" height="1.20" fill="#ec008c" opacity="0.32"/>
<rect x="313.85" y="426.00" width="4.70" height="1.20" fill="#1a9aa0" opacity="0.32"/>
<rect x="320.57" y="426.00" width="4.70" height="1.20" fill="#dadada" opacity="0.32"/>
<rect x="327.30" y="426.00" width="4.70" height="1.20" fill="#f99d25" opacity="0.32"/>
<rect x="334.02" y="426.00" width="4.70" height="1.20" fill="#3bad3a" opacity="0.32"/>
<rect x="340.74" y="426.00" width="4.70" height="1.20" fill="#0a38b4" opacity="0.32"/>
<rect x="347.46" y="426.00" width="4.70" height="1.20" fill="#981b10" opacity="0.32"/>
<rect x="354.18" y="426.00" width="4.70" height="1.20" fill="#20a8ee" opacity="0.32"/>
<rect x="360.91" y="426.00" width="4.70" height="1.20" fill="#ffd616" opacity="0.32"/>
<rect x="367.63" y="426.00" width="4.70" height="1.20" fill="#2d1656" opacity="0.32"/>
<rect x="374.35" y="426.00" width="4.70" height="1.20" fill="#ec008c" opacity="0.32"/>
<rect x="381.07" y="426.00" width="4.70" height="1.20" fill="#1a9aa0" opacity="0.32"/>
<rect x="387.79" y="426.00" width="4.70" height="1.20" fill="#dadada" opacity="0.32"/>
<rect x="394.52" y="426.00" width="4.70" height="1.20" fill="#f99d25" opacity="0.32"/>
<rect x="401.24" y="426.00" width="4.70" height="1.20" fill="#3bad3a" opacity="0.32"/>
<rect x="407.96" y="426.00" width="4.70" height="1.20" fill="#0a38b4" opacity="0.32"/>
<rect x="414.68" y="426.00" width="4.70" height="1.20" fill="#981b10" opacity="0.32"/>
<rect x="421.40" y="426.00" width="4.70" height="1.20" fill="#20a8ee" opacity="0.32"/>
<rect x="428.13" y="426.00" width="4.70" height="1.20" fill="#ffd616" opacity="0.32"/>
<rect x="434.85" y="426.00" width="4.70" height="1.20" fill="#2d1656" opacity="0.32"/>
<rect x="441.57" y="426.00" width="4.70" height="1.20" fill="#ec008c" opacity="0.32"/>
<rect x="448.29" y="426.00" width="4.70" height="1.20" fill="#1a9aa0" opacity="0.32"/>
<rect x="455.01" y="426.00" width="4.70" height="1.20" fill="#dadada" opacity="0.32"/>
<rect x="461.74" y="426.00" width="4.70" height="1.20" fill="#f99d25" opacity="0.32"/>
<rect x="468.46" y="426.00" width="4.70" height="1.20" fill="#3bad3a" opacity="0.32"/>
<rect x="475.18" y="426.00" width="4.70" height="1.20" fill="#0a38b4" opacity="0.32"/>
<rect x="481.90" y="426.00" width="4.70" height="1.20" fill="#981b10" opacity="0.32"/>
<rect x="488.62" y="426.00" width="4.70" height="1.20" fill="#20a8ee" opacity="0.32"/>
<rect x="495.35" y="426.00" width="4.70" height="1.20" fill="#ffd616" opacity="0.32"/>
<text x="10.70" y="429.70" font-size="7.0" text-anchor="start" font-weight="normal" fill="#3c3c3c" textLength="22.3" lengthAdjust="spacingAndGlyphs">5.42e-20</text>
<text x="20.90" y="416.60" font-size="7.0" text-anchor="start" font-weight="normal" fill="#3c3c3c" textLength="12.1" lengthAdjust="spacingAndGlyphs">2e-4</text>
<text x="20.90" y="403.50" font-size="7.0" text-anchor="start" font-weight="normal" fill="#3c3c3c" textLength="12.1" lengthAdjust="spacingAndGlyphs">4e-4</text>
<text x="20.90" y="390.40" font-size="7.0" text-anchor="start" font-weight="normal" fill="#3c3c3c" textLength="12.1" lengthAdjust="spacingAndGlyphs">6e-4</text>
<text x="130.80" y="436.50" font-size="6.8" text-anchor="start" font-weight="normal" fill="#383838" class="lt" textLength="286.6" lengthAdjust="spacingAndGlyphs">Compost {FR}| treatment of kitchen and garden biowaste, home composting in heaps and containers | APOS, S</text>
<text x="481.90" y="394.90" font-size="16.5" text-anchor="start" font-weight="bold" fill="#0a0a0a" textLength="18.1" lengthAdjust="spacingAndGlyphs">(c)</text>
<rect x="73.00" y="449.20" width="6.50" height="6.80" fill="#3bad3a" stroke="rgba(0,0,0,0.42)" stroke-width="0.6"/>
<text x="82.70" y="454.90" font-size="6.8" text-anchor="start" font-weight="normal" fill="#383838" class="lt" textLength="91.1" lengthAdjust="spacingAndGlyphs">Air/low. pop./Carbon dioxide, fossil</text>
<rect x="255.90" y="449.20" width="6.50" height="6.80" fill="#8ccb42" stroke="rgba(0,0,0,0.42)" stroke-width="0.6"/>
<text x="265.70" y="454.90" font-size="6.8" text-anchor="start" font-weight="normal" fill="#383838" class="lt" textLength="101.0" lengthAdjust="spacingAndGlyphs">Air/(unspecified)/Carbon dioxide, fossil</text>
<rect x="73.00" y="459.01" width="6.50" height="6.80" fill="#f99d25" stroke="rgba(0,0,0,0.42)" stroke-width="0.6"/>
<text x="82.70" y="464.71" font-size="6.8" text-anchor="start" font-weight="normal" fill="#383838" class="lt" textLength="94.0" lengthAdjust="spacingAndGlyphs">Air/high. pop./Carbon dioxide, fossil</text>
<rect x="255.90" y="459.01" width="6.50" height="6.80" fill="#ffd616" stroke="rgba(0,0,0,0.42)" stroke-width="0.6"/>
<text x="265.70" y="464.71" font-size="6.8" text-anchor="start" font-weight="normal" fill="#383838" class="lt" textLength="100.3" lengthAdjust="spacingAndGlyphs">Air/(unspecified)/Dinitrogen monoxide</text>
<rect x="73.00" y="468.82" width="6.50" height="6.80" fill="#0a38b4" stroke="rgba(0,0,0,0.42)" stroke-width="0.6"/>
<text x="82.70" y="474.52" font-size="6.8" text-anchor="start" font-weight="normal" fill="#383838" class="lt" textLength="91.1" lengthAdjust="spacingAndGlyphs">Air/low. pop./Dinitrogen monoxide</text>
<rect x="255.90" y="468.82" width="6.50" height="6.80" fill="#20a8ee" stroke="rgba(0,0,0,0.42)" stroke-width="0.6"/>
<text x="265.70" y="474.52" font-size="6.8" text-anchor="start" font-weight="normal" fill="#383838" class="lt" textLength="68.6" lengthAdjust="spacingAndGlyphs">Air/(unspecified)/Methane</text>
<rect x="73.00" y="478.63" width="6.50" height="6.80" fill="#981b10" stroke="rgba(0,0,0,0.42)" stroke-width="0.6"/>
<text x="82.70" y="484.33" font-size="6.8" text-anchor="start" font-weight="normal" fill="#383838" class="lt" textLength="75.4" lengthAdjust="spacingAndGlyphs">Air/low. pop./Methane, fossil</text>
<rect x="255.90" y="478.63" width="6.50" height="6.80" fill="#e8281e" stroke="rgba(0,0,0,0.42)" stroke-width="0.6"/>
<text x="265.70" y="484.33" font-size="6.8" text-anchor="start" font-weight="normal" fill="#383838" class="lt" textLength="83.9" lengthAdjust="spacingAndGlyphs">Air/low. pop./Methane, biogenic</text>
<rect x="73.00" y="488.44" width="6.50" height="6.80" fill="#45107a" stroke="rgba(0,0,0,0.42)" stroke-width="0.6"/>
<text x="82.70" y="494.14" font-size="6.8" text-anchor="start" font-weight="normal" fill="#383838" class="lt" textLength="93.3" lengthAdjust="spacingAndGlyphs">Air/high. pop./Dinitrogen monoxide</text>
<rect x="255.90" y="488.44" width="6.50" height="6.80" fill="#6e6278" stroke="rgba(0,0,0,0.42)" stroke-width="0.6"/>
<text x="265.70" y="494.14" font-size="6.8" text-anchor="start" font-weight="normal" fill="#383838" class="lt" textLength="129.1" lengthAdjust="spacingAndGlyphs">Air/low. pop./Carbon dioxide, land transformation</text>
<rect x="73.00" y="498.25" width="6.50" height="6.80" fill="#bd7acd" stroke="rgba(0,0,0,0.42)" stroke-width="0.6"/>
<text x="82.70" y="503.95" font-size="6.8" text-anchor="start" font-weight="normal" fill="#383838" class="lt" textLength="86.8" lengthAdjust="spacingAndGlyphs">Air/high. pop./Methane, biogenic</text>
<rect x="255.90" y="498.25" width="6.50" height="6.80" fill="#363636" stroke="rgba(0,0,0,0.42)" stroke-width="0.6"/>
<text x="265.70" y="503.95" font-size="6.8" text-anchor="start" font-weight="normal" fill="#383838" class="lt" textLength="84.9" lengthAdjust="spacingAndGlyphs">Air/(unspecified)/Methane, fossil</text>
<rect x="73.00" y="508.06" width="6.50" height="6.80" fill="#a8a0a0" stroke="rgba(0,0,0,0.42)" stroke-width="0.6"/>
<text x="82.70" y="513.76" font-size="6.8" text-anchor="start" font-weight="normal" fill="#383838" class="lt" textLength="143.4" lengthAdjust="spacingAndGlyphs">Air/(unspecified)/Ethane, 1,1,1,2-tetrafluoro-, HFC-134a</text>
<rect x="255.90" y="508.06" width="6.50" height="6.80" fill="#dadada" stroke="rgba(0,0,0,0.42)" stroke-width="0.6"/>
<text x="265.70" y="513.76" font-size="6.8" text-anchor="start" font-weight="normal" fill="#383838" class="lt" textLength="77.1" lengthAdjust="spacingAndGlyphs">Air/high. pop./Methane, fossil</text>
<rect x="73.00" y="517.87" width="6.50" height="6.80" fill="#ec008c" stroke="rgba(0,0,0,0.42)" stroke-width="0.6"/>
<text x="82.70" y="523.57" font-size="6.8" text-anchor="start" font-weight="normal" fill="#383838" class="lt" textLength="94.0" lengthAdjust="spacingAndGlyphs">Air/(unspecified)/Sulfur hexafluoride</text>
<rect x="255.90" y="517.87" width="6.50" height="6.80" fill="#1a9aa0" stroke="rgba(0,0,0,0.42)" stroke-width="0.6"/>
<text x="265.70" y="523.57" font-size="6.8" text-anchor="start" font-weight="normal" fill="#383838" class="lt" textLength="122.8" lengthAdjust="spacingAndGlyphs">Air/(unspecified)/Methane, tetrafluoro-, CFC-14</text>
<rect x="73.00" y="527.68" width="6.50" height="6.80" fill="#f0acd8" stroke="rgba(0,0,0,0.42)" stroke-width="0.6"/>
<text x="82.70" y="533.38" font-size="6.8" text-anchor="start" font-weight="normal" fill="#383838" class="lt" textLength="127.0" lengthAdjust="spacingAndGlyphs">Air/low. pop./Methane, chlorodifluoro-, HCFC-22</text>
<rect x="255.90" y="527.68" width="6.50" height="6.80" fill="#0a7f38" stroke="rgba(0,0,0,0.42)" stroke-width="0.6"/>
<text x="265.70" y="533.38" font-size="6.8" text-anchor="start" font-weight="normal" fill="#383838" class="lt" textLength="116.4" lengthAdjust="spacingAndGlyphs">Air/high. pop./Methane, tetrachloro-, CFC-10</text>
<rect x="73.00" y="537.49" width="6.50" height="6.80" fill="#f26c12" stroke="rgba(0,0,0,0.42)" stroke-width="0.6"/>
<text x="82.70" y="543.19" font-size="6.8" text-anchor="start" font-weight="normal" fill="#383838" class="lt" textLength="130.0" lengthAdjust="spacingAndGlyphs">Air/high. pop./Methane, dichlorodifluoro-, CFC-12</text>
<rect x="255.90" y="537.49" width="6.50" height="6.80" fill="#1c2c74" stroke="rgba(0,0,0,0.42)" stroke-width="0.6"/>
<text x="265.70" y="543.19" font-size="6.8" text-anchor="start" font-weight="normal" fill="#383838" class="lt" textLength="113.8" lengthAdjust="spacingAndGlyphs">Air/high. pop./Ethane, hexafluoro-, HFC-116</text>
</svg></body></html>
